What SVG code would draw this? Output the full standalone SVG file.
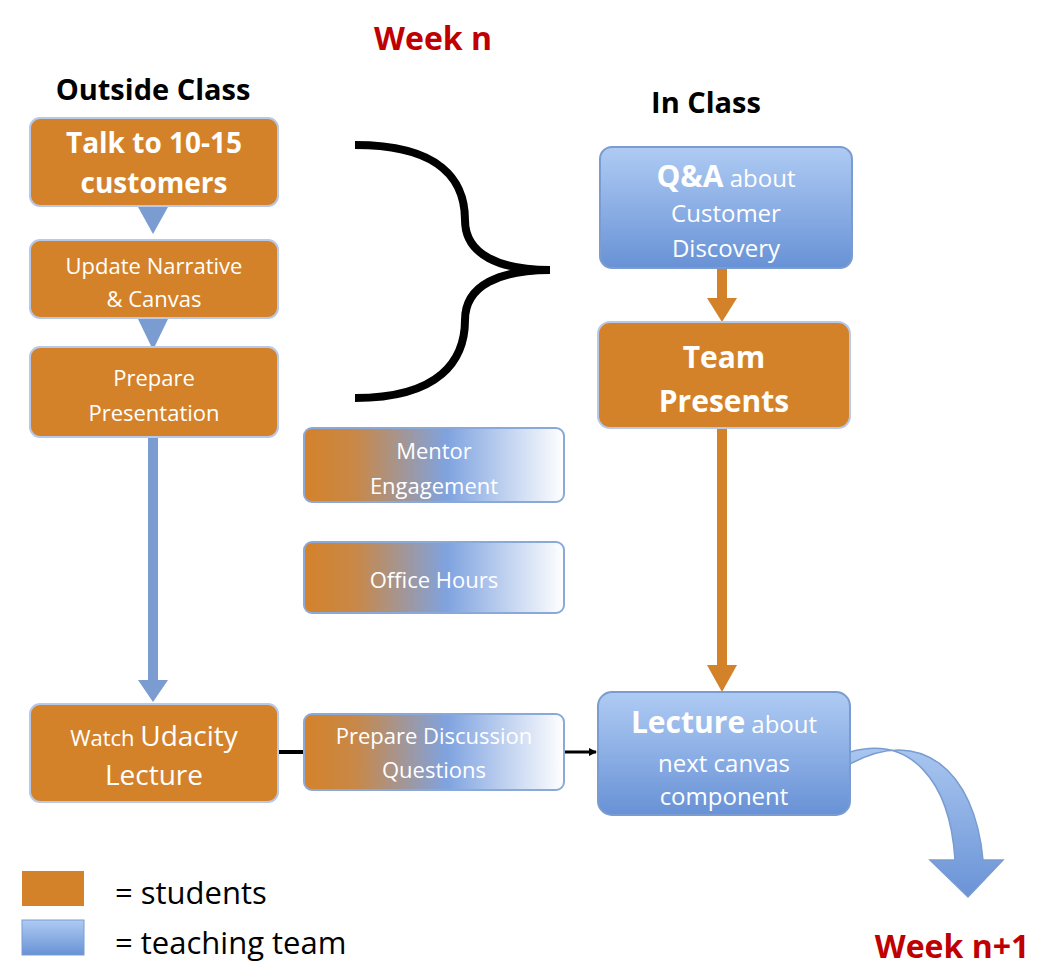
<svg xmlns="http://www.w3.org/2000/svg" width="1058" height="977" viewBox="0 0 1058 977">
<style>
text{font-family:"Open Sans","Liberation Sans",sans-serif;fill:#fff;text-anchor:middle}
.h{fill:#000;font-weight:bold;font-size:29px}
.r{fill:#C00000;font-weight:bold;font-size:32px}
.b{font-weight:bold}
.or{fill:#D4822A;stroke:#B8C8E8;stroke-width:2}
.bl{fill:url(#blg);stroke:#7A9CD0;stroke-width:2}
.gr{fill:url(#grg);stroke:#8AA8D8;stroke-width:2}
</style>
<defs>
<linearGradient id="blg" x1="0" y1="0" x2="0" y2="1"><stop offset="0" stop-color="#AFCBF3"/><stop offset="1" stop-color="#6892D6"/></linearGradient>
<linearGradient id="grg" x1="0" y1="0" x2="1" y2="0"><stop offset="0" stop-color="#D4822A"/><stop offset="0.2" stop-color="#C88848"/><stop offset="0.55" stop-color="#7FA3E0"/><stop offset="1" stop-color="#FFFFFF"/></linearGradient>
<linearGradient id="arg" x1="0" y1="0" x2="0" y2="1"><stop offset="0" stop-color="#A9C6F0"/><stop offset="1" stop-color="#6A93D6"/></linearGradient>
<marker id="ak" markerWidth="8" markerHeight="8" refX="7" refY="4" orient="auto" markerUnits="userSpaceOnUse"><path d="M0,0 L8,4 L0,8Z" fill="#000"/></marker>
</defs>
<text class="r" x="433" y="50">Week n</text>
<text class="h" x="153" y="100">Outside Class</text>
<text class="h" x="706" y="113">In Class</text>
<text class="r" x="952" y="958">Week n+1</text>
<g id="connectors">
<path d="M355,145 C440,145 465,180 465,220 C465,255 500,270 550,270 C500,270 465,285 465,320 C465,360 440,398 355,398" fill="none" stroke="#000" stroke-width="8"/>
<path d="M138,207 L168,207 L153,234Z" fill="#7A9CD0"/>
<path d="M138,319 L168,319 L153,350Z" fill="#7A9CD0"/>
<rect x="148" y="437" width="10" height="245" fill="#7A9CD0"/>
<path d="M138,680 L168,680 L153,702Z" fill="#7A9CD0"/>
<rect x="717" y="268" width="10" height="32" fill="#D4822A"/>
<path d="M707,298 L737,298 L722,322Z" fill="#D4822A"/>
<rect x="717" y="428" width="10" height="240" fill="#D4822A"/>
<path d="M707,665 L737,665 L722,692Z" fill="#D4822A"/>
<line x1="278" y1="752" x2="304" y2="752" stroke="#000" stroke-width="4"/>
<line x1="564" y1="752" x2="596" y2="752" stroke="#000" stroke-width="3" marker-end="url(#ak)"/>
<path d="M850,752 C910,735 950,780 955,860 L930,860 L968,897 L1003,860 L983,860 C975,770 920,725 850,764Z" fill="url(#arg)" stroke="#7A9CD0" stroke-width="1.5"/>
</g>
<g id="talk"><rect class="or" x="30" y="118" width="248" height="88" rx="10"/><text class="b" font-size="28" x="154" y="153">Talk to 10-15</text><text class="b" font-size="28" x="154" y="193">customers</text></g>
<g id="update"><rect class="or" x="30" y="240" width="248" height="78" rx="10"/><text font-size="22" x="154" y="274">Update Narrative</text><text font-size="22" x="154" y="307">&amp; Canvas</text></g>
<g id="prepare"><rect class="or" x="30" y="347" width="248" height="90" rx="10"/><text font-size="22" x="154" y="386">Prepare</text><text font-size="22" x="154" y="421">Presentation</text></g>
<g id="watch"><rect class="or" x="30" y="704" width="248" height="98" rx="10"/><text x="154" y="746"><tspan font-size="22">Watch </tspan><tspan font-size="28">Udacity</tspan></text><text font-size="28" x="154" y="785">Lecture</text></g>
<g id="mentor"><rect class="gr" x="304" y="428" width="260" height="74" rx="8"/><text font-size="22" x="434" y="459">Mentor</text><text font-size="22" x="434" y="494">Engagement</text></g>
<g id="office"><rect class="gr" x="304" y="542" width="260" height="71" rx="8"/><text font-size="22" x="434" y="588">Office Hours</text></g>
<g id="discussion"><rect class="gr" x="304" y="714" width="260" height="76" rx="8"/><text font-size="22" x="434" y="744">Prepare Discussion</text><text font-size="22" x="434" y="778">Questions</text></g>
<g id="qa"><rect class="bl" x="600" y="147" width="252" height="121" rx="12"/><text x="726" y="187"><tspan class="b" font-size="30">Q&amp;A</tspan><tspan font-size="24"> about</tspan></text><text font-size="24" x="726" y="222">Customer</text><text font-size="24" x="726" y="257">Discovery</text></g>
<g id="team"><rect class="or" x="598" y="322" width="252" height="106" rx="12"/><text class="b" font-size="30" x="724" y="368">Team</text><text class="b" font-size="30" x="724" y="412">Presents</text></g>
<g id="lecture"><rect class="bl" x="598" y="692" width="252" height="123" rx="14"/><text x="724" y="733"><tspan class="b" font-size="30">Lecture</tspan><tspan font-size="24"> about</tspan></text><text font-size="24" x="724" y="772">next canvas</text><text font-size="24" x="724" y="805">component</text></g>
<g id="legend"><rect x="22" y="871" width="62" height="35" fill="#D4822A"/><rect x="22" y="920" width="62" height="35" fill="url(#blg)" stroke="#7A9CD0"/><text font-size="31" x="115" y="904" style="fill:#000;text-anchor:start">= students</text><text font-size="31" x="115" y="954" style="fill:#000;text-anchor:start">= teaching team</text></g>
</svg>
